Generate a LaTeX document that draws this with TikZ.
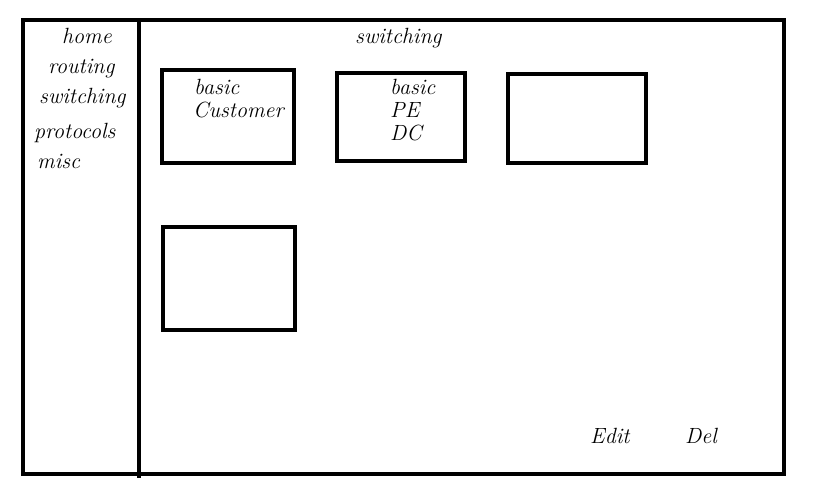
\documentclass[tikz,border=0pt]{standalone}
\usepackage{fontspec}
\setmainfont{Latin Modern Roman}
\begin{document}
\begin{tikzpicture}[x=1pt,y=-1pt,
  frame/.style={draw,line width=3.5pt},
  lbl/.style={font=\fontsize{22}{24}\selectfont\itshape,inner sep=0pt,anchor=base west}]
\useasboundingbox (0,0) rectangle (814,493);
\fill[white] (0,0) rectangle (814,493);
\draw[frame] (23,20) rectangle (784,474);
\draw[frame] (139,20) -- (139,478);
\draw[frame] (162,70) rectangle (294,163);
\draw[frame] (337,73) rectangle (465,161);
\draw[frame] (508,74) rectangle (646,163);
\draw[frame] (163,227) rectangle (295,330);
\node[lbl] (home) at (62,43) {home};
\node[lbl] (routing) at (48,73) {routing};
\node[lbl] (sw) at (39,103) {switching};
\node[lbl] (proto) at (34,138) {protocols};
\node[lbl] (misc) at (37,168) {misc};
\node[lbl] (title) at (355,43) {switching};
\node[lbl] (b1a) at (194,94) {basic};
\node[lbl] (b1b) at (193,117) {Customer};
\node[lbl] (b2a) at (390,94) {basic};
\node[lbl] (b2b) at (390,117) {PE};
\node[lbl] (b2c) at (390,140) {DC};
\node[lbl] (edit) at (590,443) {Edit};
\node[lbl] (del) at (685,443) {Del};
\end{tikzpicture}
\end{document}
